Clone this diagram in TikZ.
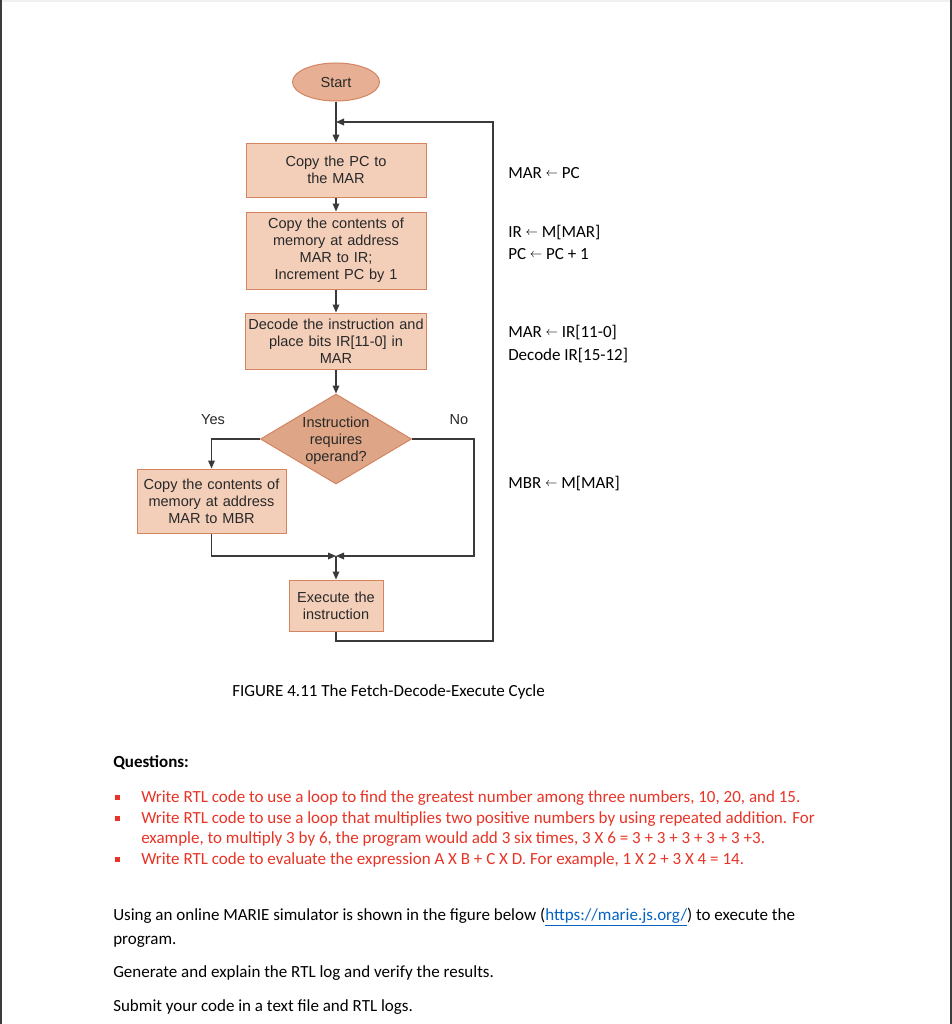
\documentclass[tikz,border=0pt]{standalone}
\usepackage{fontspec}
\setmainfont{Carlito}
\newfontfamily\flowfont{Liberation Sans}
\usetikzlibrary{arrows.meta,shapes.geometric}
\definecolor{boxfill}{RGB}{243,207,186}
\definecolor{boxline}{RGB}{212,132,96}
\definecolor{diafill}{RGB}{222,166,135}
\definecolor{startfill}{RGB}{231,176,148}
\definecolor{conn}{RGB}{58,58,58}
\definecolor{flowtext}{RGB}{40,40,40}
\definecolor{qred}{RGB}{232,52,38}
\definecolor{linkblue}{RGB}{5,99,193}
\definecolor{edge}{RGB}{60,60,60}
\newcommand{\rtlarrow}{\raisebox{1.3pt}{$\scriptstyle\leftarrow$}}
\begin{document}
\begin{tikzpicture}[x=0.75pt,y=-0.75pt,
  flowbox/.style={draw=boxline, line width=0.75pt, fill=boxfill, inner sep=0pt,
     align=center, text=flowtext, font=\flowfont\fontsize{10.9pt}{12.75pt}\selectfont},
  startnode/.style={ellipse, draw=boxline, line width=0.75pt, fill=startfill, inner sep=0pt,
     minimum width=65.25pt, minimum height=28.5pt, text=flowtext,
     font=\flowfont\fontsize{10.9pt}{12.75pt}\selectfont},
  dianode/.style={diamond, draw=boxline, line width=0.75pt, fill=diafill, inner sep=0pt,
     minimum width=113.25pt, minimum height=67.5pt},
  flowlabel/.style={inner sep=0pt, align=center, text=flowtext,
     font=\flowfont\fontsize{10.9pt}{12.75pt}\selectfont},
  arr/.style={draw=conn, line width=0.9pt, -{Triangle[length=6pt,width=5pt]}},
  rtl/.style={anchor=base west, inner sep=0pt, font=\fontsize{12.75pt}{15.3pt}\selectfont},
  body/.style={anchor=base west, inner sep=0pt, font=\fontsize{12.75pt}{15.3pt}\selectfont},
  qline/.style={body, text=qred},
  qbullet/.style={rectangle, fill=qred, inner sep=0pt, minimum size=3.75pt}
]
\useasboundingbox (0,0) rectangle (952,1024);
\fill[white] (0,0) rectangle (952,1024);
\fill[black!6] (0,0) rectangle (952,2);
\draw[edge, line width=1.2pt] (1,0) -- (1,1024);
\draw[edge, line width=1.2pt] (951,0) -- (951,1024);

% flowchart
\node[startnode] (start) at (336,82) {Start};
\node[flowbox, minimum width=135pt, minimum height=40.5pt, text width=135pt] (box1) at (336,170) {Copy the PC to\\the MAR};
\node[flowbox, minimum width=135pt, minimum height=57.75pt, text width=135pt] (box2) at (336,250.5) {Copy the contents of\\memory at address\\MAR to IR;\\Increment PC by 1};
\node[flowbox, minimum width=135.75pt, minimum height=42pt, text width=135.75pt] (box3) at (336,341) {Decode the instruction and\\place bits IR[11-0] in\\MAR};
\node[dianode] (dia) at (336,439) {};
\node[flowlabel] (diatext) at (336,441) {Instruction\\requires\\operand?};
\node[flowbox, minimum width=111.75pt, minimum height=48pt, text width=111.75pt] (box4) at (211.5,501) {Copy the contents of\\memory at address\\MAR to MBR};
\node[flowbox, minimum width=70.5pt, minimum height=38.25pt, text width=70.5pt] (box5) at (336,605.5) {Execute the\\instruction};

\node[flowlabel, anchor=base] (yes) at (213,424) {Yes};
\node[flowlabel, anchor=base] (no) at (459,424) {No};

\coordinate (loopin) at (336,122);
\coordinate (loopA) at (336,641);
\coordinate (loopB) at (493,641);
\coordinate (loopC) at (493,122);
\coordinate (merge) at (336,556);
\coordinate (noC) at (474,556);

\draw[arr] (start) -- (box1);
\draw[arr] (box1) -- (box2);
\draw[arr] (box2) -- (box3);
\draw[arr] (box3) -- (dia);
\draw[arr] (dia.west) -| (box4.north);
\draw[arr] (box4.south) |- (merge);
\draw[arr] (dia.east) -| (noC) -- (merge);
\draw[arr] (merge) -- (box5);
\draw[arr] (box5.south) -- (loopA) -- (loopB) -- (loopC) -- (loopin);

% RTL column
\node[rtl] (r1) at (508,178) {MAR \rtlarrow{} PC};
\node[rtl] (r2) at (508,237) {IR \rtlarrow{} M[MAR]};
\node[rtl] (r3) at (508,259) {PC \rtlarrow{} PC + 1};
\node[rtl] (r4) at (508,337) {MAR \rtlarrow{} IR[11-0]};
\node[rtl] (r5) at (508,360) {Decode IR[15-12]};
\node[rtl] (r6) at (508,488) {MBR \rtlarrow{} M[MAR]};

\node[body] (caption) at (232,696) {FIGURE 4.11 The Fetch-Decode-Execute Cycle};

% questions
\node[body, font=\bfseries\fontsize{12.75pt}{15.3pt}\selectfont] (qhead) at (113,767) {Questions:};
\node[qbullet] (b1) at (117.5,797) {};
\node[qbullet] (b2) at (117.5,818) {};
\node[qbullet] (b3) at (117.5,859) {};
\node[qline] (q1) at (141,802) {Write RTL code to use a loop to find the greatest number among three numbers, 10, 20, and 15.};
\node[qline] (q2) at (141,823) {Write RTL code to use a loop that multiplies two positive numbers by using repeated addition. For};
\node[qline] (q2b) at (141,843) {example, to multiply 3 by 6, the program would add 3 six times, 3 X 6 = 3 + 3 + 3 + 3 + 3 +3.};
\node[qline] (q3) at (141,864) {Write RTL code to evaluate the expression A X B + C X D. For example, 1 X 2 + 3 X 4 = 14.};

\node[body] (p1) at (113,920) {Using an online MARIE simulator is shown in the figure below ({\color{linkblue}\underline{https://marie.js.org/}}) to execute the};
\node[body] (p1b) at (113,944) {program.};
\node[body] (p2) at (113,977) {Generate and explain the RTL log and verify the results.};
\node[body] (p3) at (113,1011) {Submit your code in a text file and RTL logs.};
\end{tikzpicture}
\end{document}
